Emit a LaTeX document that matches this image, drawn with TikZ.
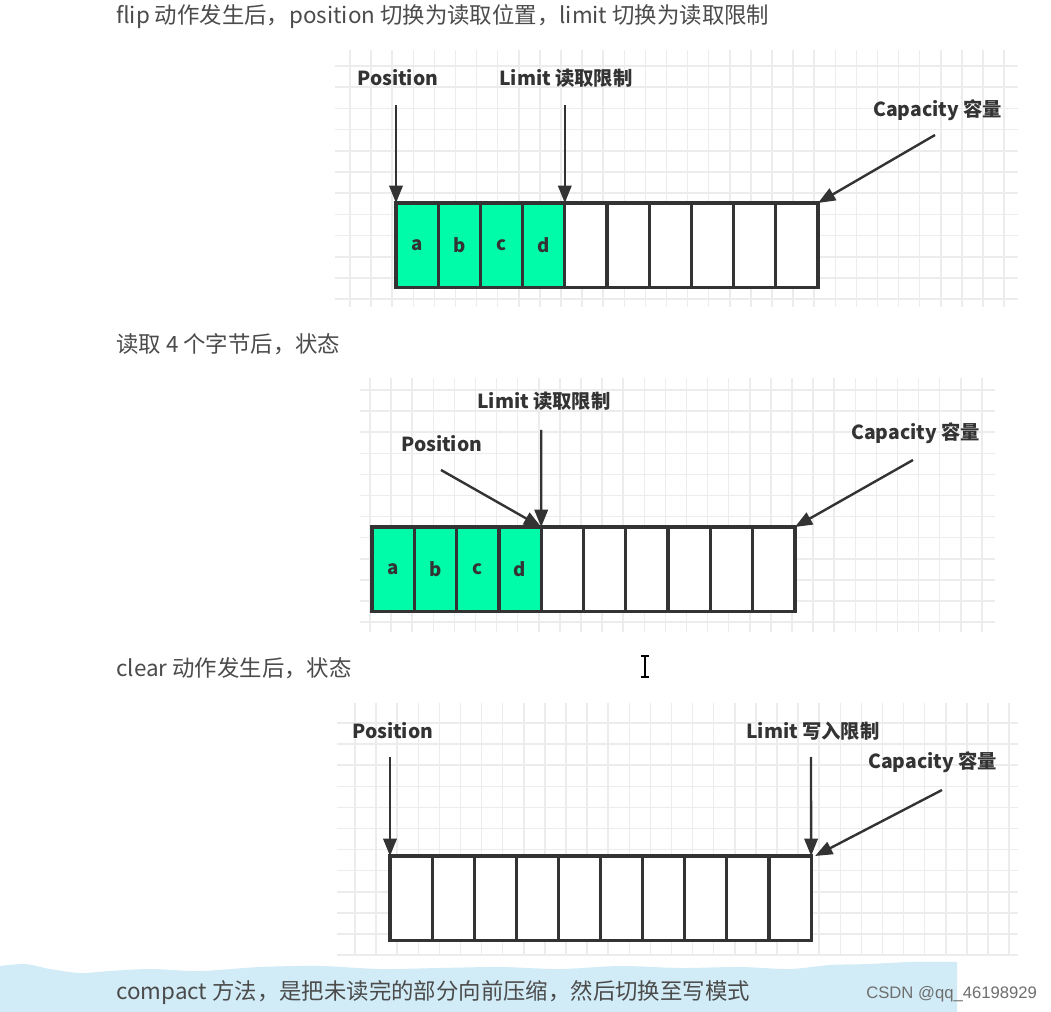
\documentclass[tikz,border=0pt]{standalone}
\usepackage{fontspec}
\setmainfont{Noto Sans CJK SC}
\newfontfamily\wmfont{Liberation Sans}
\usetikzlibrary{arrows.meta}
\definecolor{gridc}{RGB}{236,236,236}
\definecolor{linec}{RGB}{51,51,51}
\definecolor{greenc}{RGB}{0,252,168}
\definecolor{titlec}{RGB}{75,75,75}
\definecolor{bandc}{RGB}{210,236,247}
\definecolor{wmc}{RGB}{110,110,110}
\tikzset{
  gridline/.style={draw=gridc, line width=1.1pt},
  cellbox/.style={draw=linec, line width=2.4pt, minimum width=31.65pt, minimum height=63.5pt, inner sep=0pt, outer sep=0pt, anchor=north west, font=\fontsize{14}{14}\selectfont\bfseries, text=linec},
  greencell/.style={cellbox, fill=greenc},
  whitecell/.style={cellbox, fill=white},
  lbl/.style={anchor=west, inner sep=0pt, font=\fontsize{14.5}{15}\selectfont\bfseries, text=linec},
  title/.style={anchor=west, inner sep=0pt, font=\fontsize{16.8}{17}\selectfont, text=titlec},
  ptr/.style={draw=linec, line width=1.8pt, -{Triangle[length=13pt,width=10pt]}}
}
\begin{document}
\begin{tikzpicture}[x=0.75pt,y=-0.75pt]
\useasboundingbox (0,0) rectangle (1051,1012);
\fill[white] (0,0) rectangle (1051,1012);

% ---------- grids ----------
% diagram 1
\foreach \k in {0,...,31} \draw[gridline] (350+21.1*\k,50) -- (350+21.1*\k,307);
\foreach \k in {0,...,11} \draw[gridline] (335,66+21.2*\k) -- (1018,66+21.2*\k);
% diagram 2
\foreach \k in {0,...,29} \draw[gridline] (370+21.1*\k,378) -- (370+21.1*\k,632);
\foreach \k in {0,...,11} \draw[gridline] (360,390+21.1*\k) -- (995,390+21.1*\k);
% diagram 3
\foreach \k in {0,...,31} \draw[gridline] (355+21.1*\k,703) -- (355+21.1*\k,955);
\foreach \k in {0,...,11} \draw[gridline] (337,723+21.1*\k) -- (1018,723+21.1*\k);

% ---------- titles ----------
\node[title] (t1) at (116,17) {flip 动作发生后，position 切换为读取位置，limit 切换为读取限制};
\node[title] (t2) at (116,344) {读取 4 个字节后，状态};
\node[title] (t3) at (116,668) {clear 动作发生后，状态};

% ---------- diagram 1 ----------
\foreach \i/\t in {1/a,2/b,3/c,4/d}
  \node[greencell] (p\i) at (396+42.2*\i-42.2,203) {\t};
\foreach \i in {5,...,10}
  \node[whitecell] (p\i) at (396+42.2*\i-42.2,203) {};
\node[lbl] (pos1) at (357,78) {Position};
\node[lbl] (lim1) at (499,78) {Limit 读取限制};
\node[lbl] (cap1) at (873,110) {Capacity 容量};
\coordinate (pos1s) at (396,105);
\coordinate (lim1s) at (564.8,105);
\coordinate (cap1s) at (935,135);
\draw[ptr] (pos1s) -- (p1.north west);
\draw[ptr] (lim1s) -- (p5.north west);
\draw[ptr] (cap1s) -- (p10.north east);

% ---------- diagram 2 ----------
\foreach \i/\t in {1/a,2/b,3/c,4/d}
  \node[greencell] (q\i) at (372+42.3*\i-42.3,527) {\t};
\foreach \i in {5,...,10}
  \node[whitecell] (q\i) at (372+42.3*\i-42.3,527) {};
\node[lbl] (lim2) at (477,401) {Limit 读取限制};
\node[lbl] (pos2) at (401,444) {Position};
\node[lbl] (cap2) at (851,433) {Capacity 容量};
\coordinate (lim2s) at (541.2,430);
\coordinate (pos2s) at (441,470);
\coordinate (cap2s) at (913,460);
\draw[ptr] (lim2s) -- (q5.north west);
\draw[ptr] (pos2s) -- (q5.north west);
\draw[ptr] (cap2s) -- (q10.north east);

% ---------- diagram 3 ----------
\foreach \i in {1,...,10}
  \node[whitecell] (r\i) at (390+42.1*\i-42.1,856) {};
\node[lbl] (pos3) at (352,731) {Position};
\node[lbl] (lim3) at (746,731) {Limit 写入限制};
\node[lbl] (cap3) at (868,762) {Capacity 容量};
\coordinate (pos3s) at (390,757);
\coordinate (lim3s) at (811,757);
\coordinate (cap3s) at (942,790);
\draw[ptr] (pos3s) -- (r1.north west);
\draw[ptr] (lim3s) -- (r10.north east);
\draw[ptr] (cap3s) -- ([xshift=3pt]r10.north east);

% ---------- text cursor ----------
\draw[black, line width=1.2pt] (645,656) -- (645,677);
\draw[black, line width=1.2pt] (641,656) -- (649,656);
\draw[black, line width=1.2pt] (641,677) -- (649,677);

% ---------- bottom band ----------
\fill[bandc] plot[smooth] coordinates {(0,966) (25,964) (50,969) (80,973) (110,971) (150,969) (200,971) (260,967) (320,966) (380,969) (440,968) (500,967) (560,969) (620,966) (680,968) (740,967) (790,969) (830,965) (870,964) (910,962) (957,962)} -- (957,1012) -- (0,1012) -- cycle;
\node[title] (t4) at (116,993) {compact 方法，是把未读完的部分向前压缩，然后切换至写模式};
\node[anchor=west, inner sep=0pt, font=\wmfont\fontsize{12.5}{12.5}\selectfont, text=wmc] (wm) at (866,994) {CSDN @qq\_46198929};
\end{tikzpicture}
\end{document}
